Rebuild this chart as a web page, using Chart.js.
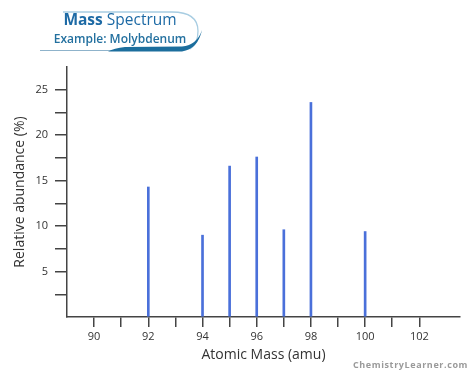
<!DOCTYPE html>
<html>
<head>
<meta charset="utf-8">
<script src="https://cdn.jsdelivr.net/npm/chart.js@4.4.1/dist/chart.umd.min.js"></script>
<style>
  html, body { margin: 0; padding: 0; background: #fff; }
  #wrap { position: relative; width: 474px; height: 377px; overflow: hidden; background: #fff; }
  #c { position: absolute; left: 0; top: 0; }
  #deco { position: absolute; left: 0; top: 0; }
  .t1 { position: absolute; left: 0; width: 240px; text-align: center; top: 9px; font-family: "Open Sans", sans-serif; font-size: 15.5px; color: #1d6aa5; line-height: 20px; white-space: nowrap; }
  .t1 b { font-weight: 700; }
  .t2 { position: absolute; left: 0; width: 240px; text-align: center; top: 31px; font-family: "Open Sans", sans-serif; font-size: 12px; font-weight: 600; color: #23709f; line-height: 16px; white-space: nowrap; }
  .wm { position: absolute; left: 353px; top: 358px; font-family: "Open Sans", sans-serif; font-weight: 700; font-size: 9px; letter-spacing: 0.6px; color: #9a9a9a; white-space: nowrap; }
</style>
</head>
<body>
<div id="wrap">
  <canvas id="c" width="474" height="377"></canvas>
  <svg id="deco" width="240" height="60">
    <path d="M63 12 L172 12 Q198 12 198 31 Q198 44 190 49" stroke="#a8cde2" stroke-width="1.3" fill="none"/>
    <path d="M40 50.5 L112 50.5" stroke="#8fb3cb" stroke-width="1.2" fill="none"/>
    <path d="M108 51.5 L182 51.5 Q198 49 202 30 Q197 45 182 46.5 L125 47 Q114 48 108 51.5 Z" fill="#1c6e9d"/>
  </svg>
  <div class="t1"><b>Mass</b> Spectrum</div>
  <div class="t2">Example: Molybdenum</div>
  <div class="wm">ChemistryLearner.com</div>
</div>
<script>
const masses = [92, 94, 95, 96, 97, 98, 100];
const abundance = [14.3, 9.0, 16.6, 17.6, 9.6, 23.6, 9.4];
const xTitle = "Atomic Mass (amu)";
const yTitle = "Relative abundance (%)";

const points = masses.map((m, i) => ({ x: m, y: abundance[i] }));
const axisColor = '#444';

new Chart(document.getElementById('c'), {
  type: 'bar',
  data: {
    datasets: [{
      data: points,
      backgroundColor: '#4a70da',
      borderWidth: 0,
      barThickness: 2
    }]
  },
  options: {
    responsive: false,
    animation: false,
    events: [],
    layout: { padding: { top: 67, right: 14, left: 0, bottom: 0 } },
    plugins: { legend: { display: false }, tooltip: { enabled: false } },
    scales: {
      x: {
        type: 'linear',
        offset: false,
        min: 89,
        max: 103.5,
        afterFit: s => { s.height = 60; },
        border: { color: axisColor, width: 1.5 },
        grid: {
          offset: false,
          drawOnChartArea: false,
          drawTicks: true,
          tickLength: 10,
          lineWidth: 1.5,
          color: ctx => (ctx.tick && Number.isInteger(ctx.tick.value) && ctx.tick.value > 89) ? axisColor : 'rgba(0,0,0,0)',
          tickColor: ctx => (ctx.tick && Number.isInteger(ctx.tick.value) && ctx.tick.value > 89) ? axisColor : 'rgba(0,0,0,0)'
        },
        ticks: {
          stepSize: 1,
          autoSkip: false,
          maxRotation: 0,
          padding: 3,
          color: '#333',
          font: { family: 'Open Sans', size: 11 },
          callback: v => (Number.isInteger(v) && v % 2 === 0 && v >= 90) ? String(v) : ''
        },
        title: {
          display: true,
          text: xTitle,
          color: '#333',
          font: { family: 'Open Sans', size: 14 },
          padding: 14
        }
      },
      y: {
        min: 0,
        max: 27.5,
        afterFit: s => { s.width = 67; },
        border: { color: axisColor, width: 1.5 },
        grid: {
          offset: false,
          drawOnChartArea: false,
          drawTicks: true,
          tickLength: 12,
          lineWidth: 1.5,
          color: ctx => (ctx.tick && ctx.tick.value > 0 && ctx.tick.value < 27.5) ? axisColor : 'rgba(0,0,0,0)',
          tickColor: ctx => (ctx.tick && ctx.tick.value > 0 && ctx.tick.value < 27.5) ? axisColor : 'rgba(0,0,0,0)'
        },
        ticks: {
          stepSize: 2.5,
          autoSkip: false,
          padding: 7,
          color: '#333',
          font: { family: 'Open Sans', size: 11 },
          callback: v => (v > 0 && v < 27.5 && v % 5 === 0) ? String(v) : ''
        },
        title: {
          display: true,
          text: yTitle,
          color: '#333',
          font: { family: 'Open Sans', size: 14 },
          padding: 12
        }
      }
    }
  }
});
</script>
</body>
</html>
